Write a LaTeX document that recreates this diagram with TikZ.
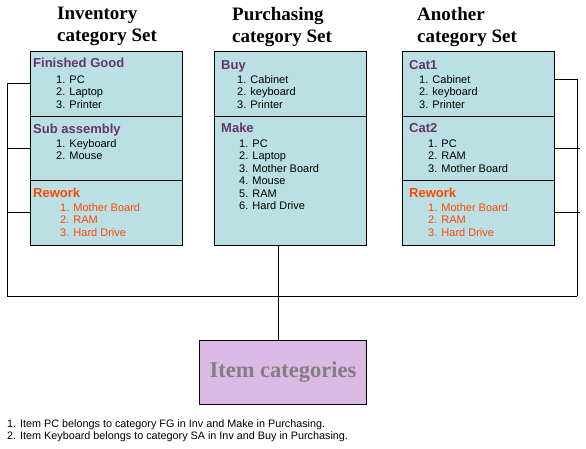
\documentclass[tikz,border=0pt]{standalone}
\usepackage{fontspec}
\setmainfont{Liberation Serif}
\newfontfamily\arialfont{Liberation Sans}
\definecolor{setfill}{RGB}{187,224,228}
\definecolor{itemfill}{RGB}{220,185,228}
\definecolor{sectpurple}{RGB}{102,51,110}
\definecolor{reworkred}{RGB}{255,69,0}
\definecolor{itemgray}{RGB}{128,128,128}
\tikzset{
    setbox/.style={draw, fill=setfill, line width=1pt, minimum width=152pt, anchor=north west, inner sep=0pt},
    settitle/.style={font=\fontsize{19}{22}\selectfont\bfseries, align=left, anchor=north west, inner sep=0pt},
    secttitle/.style={font=\arialfont\fontsize{13}{15}\selectfont\bfseries, text=sectpurple, anchor=base west, inner sep=0pt},
    sectitems/.style={font=\arialfont\fontsize{11}{12.5}\selectfont, align=left, anchor=north west, inner sep=0pt},
    link/.style={line width=1pt},
}
\begin{document}
\begin{tikzpicture}[x=1pt, y=-1pt]
        \useasboundingbox (0,0) rectangle (586,449);
        % titles of the three sets
        \node[settitle] (InvTitle) at (57,7) {Inventory\\category Set};
        \node[settitle] (PurTitle) at (232,7) {Purchasing\\category Set};
        \node[settitle] (AnoTitle) at (417,7) {Another\\category Set};
        % inventory category set
        \node[setbox, minimum height=65pt] (FinishedGood) at (30,51) {};
        \node[setbox, minimum height=64pt] (SubAssembly) at (30,116) {};
        \node[setbox, minimum height=65pt] (ReworkInv) at (30,180) {};
        \node[secttitle] (FinishedGoodName) at (33,68) {Finished Good};
        \node[sectitems] (FinishedGoodList) at (56,75.2) {
            1. PC\\2. Laptop\\3. Printer
        };
        \node[secttitle] (SubAssemblyName) at (33,134) {Sub assembly};
        \node[sectitems] (SubAssemblyList) at (56,139.2) {
            1. Keyboard\\2. Mouse
        };
        \node[secttitle, text=reworkred] (ReworkInvName) at (33,198) {Rework};
        \node[sectitems, text=reworkred] (ReworkInvList) at (60,203.2) {
            1. Mother Board\\2. RAM\\3. Hard Drive
        };
        % purchasing category set
        \node[setbox, minimum height=65pt] (Buy) at (214,51) {};
        \node[setbox, minimum height=129pt] (Make) at (214,116) {};
        \node[secttitle] (BuyName) at (221,70) {Buy};
        \node[sectitems] (BuyList) at (237,75.2) {
            1. Cabinet\\2. keyboard\\3. Printer
        };
        \node[secttitle] (MakeName) at (221,133) {Make};
        \node[sectitems] (MakeList) at (239,139.2) {
            1. PC\\2. Laptop\\3. Mother Board\\4. Mouse\\5. RAM\\6. Hard Drive
        };
        % another category set
        \node[setbox, minimum height=65pt] (CatOne) at (402,51) {};
        \node[setbox, minimum height=64pt] (CatTwo) at (402,116) {};
        \node[setbox, minimum height=65pt] (ReworkAno) at (402,180) {};
        \node[secttitle] (CatOneName) at (409,70) {Cat1};
        \node[sectitems] (CatOneList) at (419,75.2) {
            1. Cabinet\\2. keyboard\\3. Printer
        };
        \node[secttitle] (CatTwoName) at (409,133) {Cat2};
        \node[sectitems] (CatTwoList) at (428,139.2) {
            1. PC\\2. RAM\\3. Mother Board
        };
        \node[secttitle, text=reworkred] (ReworkAnoName) at (409,198) {Rework};
        \node[sectitems, text=reworkred] (ReworkAnoList) at (428,203.2) {
            1. Mother Board\\2. RAM\\3. Hard Drive
        };
        % item categories
        \node[draw, fill=itemfill, line width=1pt, minimum width=167pt, minimum height=64pt,
            anchor=north west, text=itemgray, font=\fontsize{22.5}{25}\selectfont\bfseries]
            (ItemCategories) at (199,340) {Item categories};
        \node[font=\arialfont\fontsize{10.8}{11.5}\selectfont, align=left, anchor=north west, inner sep=0pt]
            (Notes) at (7,419.5) {
            1. Item PC belongs to category FG in Inv and Make in Purchasing.\\
            2. Item Keyboard belongs to category SA in Inv and Buy in Purchasing.
        };
        % connectors
        \coordinate (LeftBus) at (7,296);
        \coordinate (RightBus) at (577,296);
        \coordinate (RightEnd) at (580,296);
        \coordinate (Hub) at (278,296);
        \draw[link] (FinishedGood.west) -| (LeftBus);
        \draw[link] (SubAssembly.west) -- (SubAssembly.west -| LeftBus);
        \draw[link] ([yshift=0.5pt]ReworkInv.west) -- ([yshift=0.5pt]ReworkInv.west -| LeftBus);
        \draw[link] (LeftBus) -- (RightBus);
        \draw[link] ([yshift=4pt]CatOne.east) -| (RightBus);
        \draw[link] (CatTwo.east) -- (CatTwo.east -| RightEnd);
        \draw[link] ([yshift=0.5pt]ReworkAno.east) -- ([yshift=0.5pt]ReworkAno.east -| RightEnd);
        \draw[link] (Make.south -| Hub) -- (Hub |- ItemCategories.north);
    \end{tikzpicture}
\end{document}
